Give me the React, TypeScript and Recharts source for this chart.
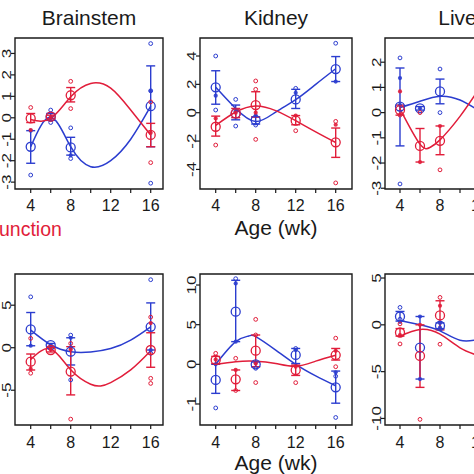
import React from "react";
import { ComposedChart, Line, Scatter, ErrorBar, XAxis, YAxis, ReferenceArea } from "recharts";

const BLUE = "#2b3dcf";
const RED = "#e11d3a";
const INK = "#1a1a1a";
const FONT = "'Liberation Sans', Arial, Helvetica, sans-serif";

type M = [number, number, number, number]; // week, mean, low, high
type P = [number, number]; // week, value

const weeks = [4, 6, 8, 10, 12, 14, 16];
const weekLabels: Record<number, string> = { 4: "4", 8: "8", 12: "12", 16: "16" };
const titles = ["Brainstem", "Kidney", "Liver"];
const xTitle = "Age (wk)";
const sideText = "unction";

// top row, Brainstem
const tbBlueMean: M[] = [[4, -1.35, -2.12, -0.6], [6, 0.05, -0.12, 0.2], [8, -1.38, -1.74, -0.91], [16, 0.54, -1.35, 2.42]];
const tbBlueOpen: P[] = [[4, -2.67], [6, 0.36], [6, -0.22], [8, -0.47], [8, -1.9], [16, 3.46], [16, 1.26], [16, -3.05]];
const tbBlueFilled: P[] = [[4, -0.6], [6, 0.0], [8, -1.75], [16, 1.25]];
const tbBlueCurve: P[] = [[4, -1.35], [6, 0.02], [8, -1.35], [10, -2.28], [12, -2.0], [14, -1.0], [16, 0.54]];
const tbRedMean: M[] = [[4, -0.03, -0.22, 0.2], [6, 0.05, -0.05, 0.12], [8, 1.05, 0.74, 1.41], [16, -0.8, -1.35, -0.26]];
const tbRedOpen: P[] = [[4, 0.48], [8, 1.7], [8, 0.43], [16, 0.74], [16, -2.09]];
const tbRedFilled: P[] = [[4, -0.57], [6, 0.0], [16, -0.7]];
const tbRedCurve: P[] = [[4, -0.08], [6, -0.03], [8, 0.98], [10, 1.6], [12, 1.38], [14, 0.36], [16, -0.8]];

// top row, Kidney
const tkBlueMean: M[] = [[4, 1.79, 0.6, 2.96], [6, -0.05, -0.5, 0.54], [8, -0.52, -0.8, -0.3], [12, 0.94, 0.3, 1.65], [16, 3.08, 2.2, 3.96]];
const tkBlueOpen: P[] = [[4, 4.0], [4, 0.19], [6, 0.94], [6, -0.94], [8, -0.87], [12, 1.72], [16, 4.9]];
const tkBlueFilled: P[] = [[4, 1.2], [6, 0.1], [8, -0.2], [12, 1.4], [16, 2.2]];
const tkBlueCurve: P[] = [[4, 1.8], [6, 0.3], [8, -0.62], [10, 0.05], [12, 0.92], [14, 2.0], [16, 3.1]];
const tkRedMean: M[] = [[4, -0.99, -1.65, -0.24], [6, -0.05, -0.35, 0.3], [8, 0.54, -0.3, 1.48], [12, -0.56, -0.85, -0.2], [16, -2.09, -3.15, -1.08]];
const tkRedOpen: P[] = [[4, -2.28], [8, 2.24], [8, 1.65], [8, -1.88], [12, -1.27], [16, -0.61], [16, -4.95]];
const tkRedFilled: P[] = [[4, -0.4], [6, 0.0], [8, 0.0], [12, -0.2], [16, -0.85]];
const tkRedCurve: P[] = [[4, -0.9], [6, 0.05], [8, 0.48], [10, 0.15], [12, -0.56], [14, -1.35], [16, -2.1]];

// top row, Liver
const tlBlueMean: M[] = [[4, 0.24, -1.32, 1.77], [6, 0.17, 0.1, 0.24], [8, 0.84, 0.35, 1.33]];
const tlBlueOpen: P[] = [[4, 2.17], [4, -2.83], [8, 1.73], [8, 0.0]];
const tlBlueFilled: P[] = [[4, 1.37], [4, 0.3], [6, 0.17]];
const tlBlueCurve: P[] = [[4, 0.2], [6, 0.45], [8, 0.65], [10, 0.5], [12, 0.05]];
const tlRedMean: M[] = [[4, 0.1, -0.1, 0.3], [6, -1.32, -1.96, -0.63], [8, -1.12, -1.67, -0.53]];
const tlRedOpen: P[] = [[4, -0.1], [6, 0.0], [8, -2.27]];
const tlRedFilled: P[] = [[4, 0.84], [6, -1.96], [8, -0.53]];
const tlRedCurve: P[] = [[4, 0.15], [6, -1.25], [7, -1.38], [8, -1.08], [10, -0.15], [12, 1.0]];

// bottom row, Brainstem
const bbBlueMean: M[] = [[4, 2.15, 0.23, 4.14], [6, 0.31, 0.1, 0.5], [8, -0.47, -2.03, 1.17], [16, 2.46, -0.27, 5.27]];
const bbBlueOpen: P[] = [[4, 5.98], [8, 1.48], [8, -3.79], [16, 8.0], [16, -0.66]];
const bbBlueFilled: P[] = [[4, 0.23], [6, 0.3], [8, 1.17], [8, 0.0], [16, -0.27]];
const bbBlueCurve: P[] = [[4, 2.07], [6, 0.35], [8, -0.47], [10, -0.5], [12, -0.1], [14, 0.9], [16, 2.46]];
const bbRedMean: M[] = [[4, -1.64, -2.62, -0.74], [6, -0.27, -0.5, 0.0], [8, -2.81, -5.55, 0.12], [16, -0.27, -2.3, 1.76]];
const bbRedOpen: P[] = [[4, 1.1], [4, -3.0], [8, 0.5], [8, -8.4], [16, 3.6], [16, -3.6], [16, -4.2]];
const bbRedFilled: P[] = [[4, -2.5], [6, -0.2], [8, -0.2], [16, 2.9]];
const bbRedCurve: P[] = [[4, -1.37], [6, -0.16], [8, -2.6], [10, -4.3], [11, -4.5], [12, -4.1], [14, -2.6], [16, -0.35]];

// bottom row, Kidney
const bkBlueMean: M[] = [[4, -1.97, -3.66, 0.0], [6, 6.64, 2.86, 10.6], [8, 0.0, -0.3, 0.3], [12, 1.18, 0.1, 2.0], [16, -2.9, -4.9, -0.85]];
const bkBlueOpen: P[] = [[4, -5.5], [6, 10.8], [8, -0.5], [12, 2.0], [16, -6.7], [16, -1.5]];
const bkBlueFilled: P[] = [[4, 0.0], [6, 10.2], [6, 2.86], [8, 0.2], [12, 1.8], [16, -1.0]];
const bkBlueCurve: P[] = [[4, 0.0], [6, 2.86], [7.3, 3.57], [8, 3.5], [10, 1.8], [12, 0.0], [14, -1.45], [16, -2.7]];
const bkRedMean: M[] = [[4, 0.55, 0.1, 1.0], [6, -1.89, -3.3, -0.71], [8, 1.72, -0.3, 3.7], [12, -0.72, -1.4, -0.1], [16, 1.17, 0.54, 2.0]];
const bkRedOpen: P[] = [[4, 1.39], [6, 0.76], [6, -3.3], [8, 5.67], [8, 3.7], [8, -2.3], [12, -2.31], [16, 3.3], [16, -0.3]];
const bkRedFilled: P[] = [[4, 0.6], [6, -0.7], [8, 0.1], [12, -0.3], [16, 1.7]];
const bkRedCurve: P[] = [[4, 0.0], [6, 0.34], [8, 0.4], [10, 0.1], [12, -0.25], [14, 0.4], [16, 1.15]];

// bottom row, Liver
const blBlueMean: M[] = [[4, 0.89, 0.4, 1.43], [6, -2.43, -5.79, 0.89], [8, -0.1, -0.4, 0.2]];
const blBlueOpen: P[] = [[4, 1.86], [4, 0.6]];
const blBlueFilled: P[] = [[4, 0.3], [6, 0.89], [6, -5.79], [8, 0.2], [8, -0.3]];
const blBlueCurve: P[] = [[4, 0.45], [6, 0.0], [8, -0.64], [10, -1.65], [12, -1.55]];
const blRedMean: M[] = [[4, -0.82, -1.2, -0.4], [6, -3.32, -6.68, 0.0], [8, 1.0, -0.54, 2.57]];
const blRedOpen: P[] = [[4, -2.04], [4, 0.1], [6, -10.1], [8, 2.93], [8, -2.07]];
const blRedFilled: P[] = [[4, -1.1], [6, 0.0], [8, 2.04]];
const blRedCurve: P[] = [[4, -1.2], [6, -0.5], [8, -1.0], [10, -2.45], [12, -3.35]];

// layout of the plotting boxes (pixels)
const columns = [
  { left: 15, right: 163, x4: 30.7 },
  { left: 200, right: 352, x4: 215.7 },
  { left: 385, right: 537, x4: 400 },
];
const rows = [
  { top: 38, bottom: 189 },
  { top: 274, bottom: 425 },
];
const PX_PER_WEEK = 10;

type Series = { mean: M[]; open: P[]; filled: P[]; curve: P[] };
type PanelCfg = {
  col: number;
  row: number;
  yDomain: [number, number];
  yTicks: number[];
  yLabels?: Record<number, string>;
  blue: Series;
  red: Series;
};

const panels: PanelCfg[] = [
  { col: 0, row: 0, yDomain: [-3.32, 3.72], yTicks: [-3, -2, -1, 0, 1, 2, 3],
    blue: { mean: tbBlueMean, open: tbBlueOpen, filled: tbBlueFilled, curve: tbBlueCurve },
    red: { mean: tbRedMean, open: tbRedOpen, filled: tbRedFilled, curve: tbRedCurve } },
  { col: 1, row: 0, yDomain: [-5.38, 5.27], yTicks: [-4, -2, 0, 2, 4],
    blue: { mean: tkBlueMean, open: tkBlueOpen, filled: tkBlueFilled, curve: tkBlueCurve },
    red: { mean: tkRedMean, open: tkRedOpen, filled: tkRedFilled, curve: tkRedCurve } },
  { col: 2, row: 0, yDomain: [-3.03, 2.96], yTicks: [-3, -2, -1, 0, 1, 2],
    blue: { mean: tlBlueMean, open: tlBlueOpen, filled: tlBlueFilled, curve: tlBlueCurve },
    red: { mean: tlRedMean, open: tlRedOpen, filled: tlRedFilled, curve: tlRedCurve } },
  { col: 0, row: 1, yDomain: [-9.09, 8.67], yTicks: [-5, 0, 5],
    blue: { mean: bbBlueMean, open: bbBlueOpen, filled: bbBlueFilled, curve: bbBlueCurve },
    red: { mean: bbRedMean, open: bbRedOpen, filled: bbRedFilled, curve: bbRedCurve } },
  { col: 1, row: 1, yDomain: [-7.65, 11.39], yTicks: [-5, 0, 5, 10], yLabels: { [-5]: "-1" },
    blue: { mean: bkBlueMean, open: bkBlueOpen, filled: bkBlueFilled, curve: bkBlueCurve },
    red: { mean: bkRedMean, open: bkRedOpen, filled: bkRedFilled, curve: bkRedCurve } },
  { col: 2, row: 1, yDomain: [-10.7, 5.43], yTicks: [-10, -5, 0, 5],
    blue: { mean: blBlueMean, open: blBlueOpen, filled: blBlueFilled, curve: blBlueCurve },
    red: { mean: blRedMean, open: blRedOpen, filled: blRedFilled, curve: blRedCurve } },
];

const toPts = (a: P[]) => a.map(([x, y]) => ({ x, y }));
const toMeans = (a: M[]) => a.map(([x, y, lo, hi]) => ({ x, y, err: [y - lo, hi - y] }));

const ring = (r: number, color: string, w: number) => (p: any) =>
  <circle cx={p.cx} cy={p.cy} r={r} fill="none" stroke={color} strokeWidth={w} />;
const dot = (r: number, color: string) => (p: any) =>
  <circle cx={p.cx} cy={p.cy} r={r} fill={color} fillOpacity={0.9} />;

function YTick(props: any) {
  const { x, y, payload, labels } = props;
  const v = payload.value;
  const label = labels && labels[v] !== undefined ? labels[v] : String(v);
  return (
    <text transform={`translate(${x},${y}) rotate(-90) scale(1,0.72)`} textAnchor="middle"
      fontSize={17} fontFamily={FONT} fill={INK}>{label}</text>
  );
}

const YW = 30;
const XH = 36;
const PAD = 2;

function seriesMarks(s: Series, color: string, key: string) {
  return [
    <Line key={key + "c"} data={toPts(s.curve)} dataKey="y" type="natural" stroke={color} strokeWidth={1.5}
      dot={false} activeDot={false} isAnimationActive={false} />,
    <Scatter key={key + "m"} data={toMeans(s.mean)} shape={ring(4.5, color, 1.3)} isAnimationActive={false}>
      <ErrorBar dataKey="err" direction="y" width={4.5} stroke={color} strokeWidth={1.4} isAnimationActive={false} />
    </Scatter>,
    <Scatter key={key + "o"} data={toPts(s.open)} shape={ring(1.9, color, 1)} isAnimationActive={false} />,
    <Scatter key={key + "f"} data={toPts(s.filled)} shape={dot(2.1, color)} isAnimationActive={false} />,
  ];
}

function Panel({ cfg }: { cfg: PanelCfg }) {
  const c = columns[cfg.col];
  const r = rows[cfg.row];
  const w = c.right - c.left;
  const h = r.bottom - r.top;
  const xDomain: [number, number] = [4 - (c.x4 - c.left) / PX_PER_WEEK, 4 + (c.right - c.x4) / PX_PER_WEEK];
  return (
    <div style={{ position: "absolute", left: c.left - YW, top: r.top - PAD }}>
      <ComposedChart width={YW + w + PAD} height={PAD + h + XH}
        margin={{ top: PAD, right: PAD, bottom: 0, left: 0 }}>
        <XAxis type="number" dataKey="x" domain={xDomain} ticks={weeks} interval={0} allowDataOverflow
          tickFormatter={(v: number) => weekLabels[v] ?? ""} height={XH} axisLine={false}
          tickSize={4} tickMargin={cfg.row === 0 ? 7 : 8}
          tick={{ fontSize: 16, fill: INK, fontFamily: FONT }} tickLine={{ stroke: INK, strokeWidth: 1.2 }} />
        <YAxis type="number" dataKey="y" domain={cfg.yDomain} ticks={cfg.yTicks} interval={0} allowDataOverflow
          width={YW} axisLine={false} tickSize={4} tickMargin={0}
          tick={(p: any) => <YTick {...p} labels={cfg.yLabels} />} tickLine={{ stroke: INK, strokeWidth: 1.2 }} />
        <ReferenceArea x1={xDomain[0]} x2={xDomain[1]} y1={cfg.yDomain[0]} y2={cfg.yDomain[1]}
          fill="none" stroke={INK} strokeWidth={1.4} />
        {seriesMarks(cfg.blue, BLUE, "b")}
        {seriesMarks(cfg.red, RED, "r")}
      </ComposedChart>
    </div>
  );
}

export default function App() {
  return (
    <div style={{ position: "absolute", left: 0, top: 0, width: 474, height: 474, overflow: "hidden",
      background: "#fff", fontFamily: FONT }}>
      {panels.map((p, i) => <Panel key={i} cfg={p} />)}
      <svg width={474} height={474} style={{ position: "absolute", left: 0, top: 0, pointerEvents: "none" }}>
        {titles.map((t, i) => (
          <text key={t} x={(columns[i].left + columns[i].right) / 2} y={25} textAnchor="middle"
            fontSize={21} fontFamily={FONT} fill={INK}>{t}</text>
        ))}
        <text x={(columns[1].left + columns[1].right) / 2} y={235} textAnchor="middle" fontSize={21}
          fontFamily={FONT} fill={INK}>{xTitle}</text>
        <text x={(columns[1].left + columns[1].right) / 2} y={470} textAnchor="middle" fontSize={21}
          fontFamily={FONT} fill={INK}>{xTitle}</text>
        <text x={-1} y={236} fontSize={19.5} fontFamily={FONT} fill={RED}>{sideText}</text>
      </svg>
    </div>
  );
}
